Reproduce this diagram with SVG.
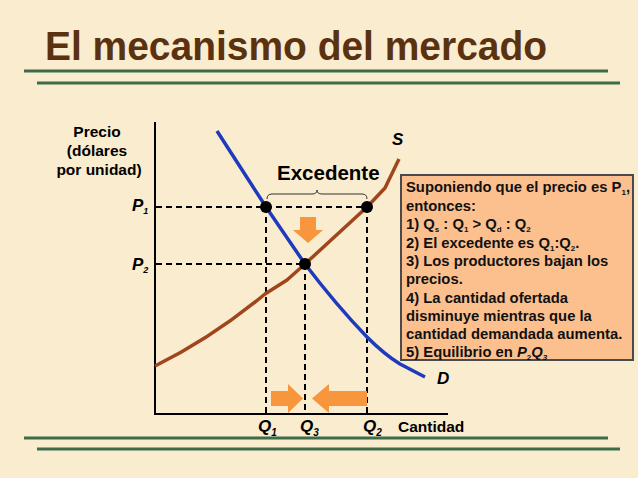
<svg xmlns="http://www.w3.org/2000/svg" width="638" height="478" viewBox="0 0 638 478">
<style>
.t{font-family:"Liberation Sans",Arial,sans-serif;font-weight:bold;fill:#000}
.it{font-style:italic}
.dash{stroke:#000;stroke-width:2;stroke-dasharray:6,4;fill:none}
.rule{stroke:#3e6b48;stroke-width:3}
.arrow{fill:#f7963d}
.box{font-family:"Liberation Sans",Arial,sans-serif;font-weight:bold;font-size:14.8px;fill:#111}
</style>
<rect width="638" height="478" fill="#faeccf"/>
<g id="title">
<text class="t" x="45" y="60" font-size="40" fill="#5a3210" style="fill:#5a3210" textLength="502" lengthAdjust="spacingAndGlyphs">El mecanismo del mercado</text>
<line class="rule" x1="24" y1="71" x2="608" y2="71"/>
<line class="rule" x1="37" y1="83" x2="620" y2="83"/>
</g>
<g id="bottom-rules">
<line class="rule" x1="24" y1="438" x2="608" y2="438"/>
<line class="rule" x1="37" y1="449" x2="620" y2="449"/>
</g>
<g id="axes">
<line x1="155" y1="122" x2="155" y2="415" stroke="#000" stroke-width="2"/>
<line x1="154" y1="414" x2="448" y2="414" stroke="#000" stroke-width="2"/>
<text class="t" font-size="15.5" text-anchor="middle"><tspan x="97" y="137">Precio</tspan><tspan x="97" y="156">(dólares</tspan><tspan x="99" y="175">por unidad)</tspan></text>
<text class="t" font-size="15.5" x="398" y="432">Cantidad</text>
</g>
<g id="connectors">
<path class="dash" d="M156,207 H367 M156,264 H305 M266,207 V413 M305,264 V413 M367,207 V413"/>
</g>
<g id="supply">
<path d="M155,366 Q212,338 265,294 L287,280 L305,264 L367,207 L385,188 L399,159" fill="none" stroke="#a0461c" stroke-width="3.5" stroke-linejoin="round"/>
<text class="t it" font-size="17" x="392" y="145">S</text>
</g>
<g id="demand">
<path d="M217,131 L266,207 L305,264 Q337,306 367,337 Q385,355 400,364 L425,377" fill="none" stroke="#1f3bbd" stroke-width="3.5" stroke-linejoin="round"/>
<text class="t it" font-size="17" x="437" y="384">D</text>
</g>
<g id="points">
<circle cx="266" cy="207" r="6" fill="#000"/>
<circle cx="367" cy="207" r="6" fill="#000"/>
<circle cx="305" cy="264" r="6" fill="#000"/>
</g>
<g id="excedente">
<text class="t" font-size="20.5" x="277" y="180">Excedente</text>
<path d="M267,199 Q267,194 272,194 L312,194 Q317,194 317,190 Q317,194 322,194 L362,194 Q367,194 367,199" fill="none" stroke="#333" stroke-width="1"/>
</g>
<g id="arrows">
<polygon class="arrow" points="300,217 316,217 316,230 323,230 308,243 293,230 300,230"/>
<polygon class="arrow" points="271,391 288,391 288,384 303,398.5 288,413 288,406 271,406"/>
<polygon class="arrow" points="367,391 329,391 329,384 312,398.5 329,413 329,406 367,406"/>
</g>
<g id="labels">
<text class="t it" font-size="17" x="132" y="211">P<tspan font-size="9" dy="3">1</tspan></text>
<text class="t it" font-size="17" x="132" y="270">P<tspan font-size="9" dy="3">2</tspan></text>
<text class="t it" font-size="17" x="258" y="432">Q<tspan font-size="10" dy="4">1</tspan></text>
<text class="t it" font-size="17" x="300" y="432">Q<tspan font-size="10" dy="4">3</tspan></text>
<text class="t it" font-size="17" x="363" y="432">Q<tspan font-size="10" dy="4">2</tspan></text>
</g>
<g id="textbox">
<rect x="401" y="175" width="232" height="185" fill="#fcc08e" stroke="#4a4a4a" stroke-width="2"/>
<text class="box" x="406" y="192">Suponiendo que el precio es P<tspan font-size="8" dy="3">1</tspan><tspan dy="-3">,</tspan></text>
<text class="box" x="406" y="210.5">entonces:</text>
<text class="box" x="406" y="229">1) Q<tspan font-size="8" dy="3">s</tspan><tspan dy="-3"> : Q</tspan><tspan font-size="8" dy="3">1</tspan><tspan dy="-3"> &gt; Q</tspan><tspan font-size="8" dy="3">d</tspan><tspan dy="-3"> : Q</tspan><tspan font-size="8" dy="3">2</tspan></text>
<text class="box" x="406" y="247.5">2) El excedente es Q<tspan font-size="8" dy="3">1</tspan><tspan dy="-3">:Q</tspan><tspan font-size="8" dy="3">2</tspan><tspan dy="-3">.</tspan></text>
<text class="box" x="406" y="266">3) Los productores bajan los</text>
<text class="box" x="406" y="284">precios.</text>
<text class="box" x="406" y="302.5">4) La cantidad ofertada</text>
<text class="box" x="406" y="321">disminuye mientras que la</text>
<text class="box" x="406" y="339">cantidad demandada aumenta.</text>
<text class="box" x="406" y="357">5) Equilibrio en <tspan font-style="italic">P</tspan><tspan font-size="8" dy="3">2</tspan><tspan dy="-3" font-style="italic">Q</tspan><tspan font-size="8" dy="3" font-style="italic">3</tspan></text>
</g>
</svg>
